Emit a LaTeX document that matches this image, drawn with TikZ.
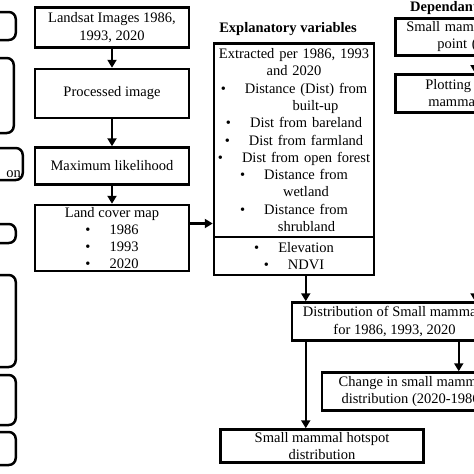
\documentclass[tikz,border=0pt]{standalone}
\usepackage{fontspec}
\setmainfont{Liberation Serif}
\usepackage{tikz}
\usetikzlibrary{arrows.meta}
\usetikzlibrary{calc}
\usetikzlibrary{positioning}
\usetikzlibrary{shapes}
\newcommand{\flowfont}{\fontsize{14.5}{17.3}\selectfont}
\newcommand{\bul}{\textbullet\hspace{19pt}}

\begin{document}
\begin{tikzpicture}[x=1pt,y=-1pt,
    flowbox/.style={draw,rectangle,line width=2.5pt,align=center,inner sep=2pt,font=\flowfont},
    sidebox/.style={draw,rectangle,rounded corners=7pt,line width=2.5pt,minimum width=120pt},
    heading/.style={inner sep=0pt,font=\flowfont\bfseries},
    arr/.style={-{Triangle[length=8pt,width=9pt]},line width=2.5pt}]
      \useasboundingbox (0,0) rectangle (474,474);
      \clip (0,0) rectangle (474,474);
      \fill[white] (0,0) rectangle (474,474);

      \node[sidebox,anchor=east,minimum height=28pt] (s1) at (17,26) {};
      \node[sidebox,anchor=east,minimum height=75pt] (s2) at (15,95.5) {};
      \node[sidebox,anchor=east,minimum height=32pt] (s3) at (24,164) {};
      \node[anchor=base east,inner sep=0pt,font=\flowfont] (s3t) at ([xshift=-3pt,yshift=4pt]s3.south east) {on};
      \node[sidebox,anchor=east,minimum height=19pt] (s4) at (17,233.5) {};
      \node[sidebox,anchor=east,minimum height=92pt] (s5) at (17,321) {};
      \node[sidebox,anchor=east,minimum height=50pt] (s6) at (17,400) {};
      \node[sidebox,anchor=east,minimum height=33pt] (s7) at (17,448.5) {};

      \node[flowbox,minimum width=154pt,minimum height=40pt] (landsat) at (112,27.5) {Landsat Images 1986,\\1993, 2020};
      \node[flowbox,minimum width=154pt,minimum height=49pt,below=19pt of landsat] (processed) {Processed image};
      \node[flowbox,minimum width=154pt,minimum height=37pt,below=27pt of processed] (maxlik) {Maximum likelihood};
      \node[flowbox,minimum width=154pt,minimum height=66pt,inner ysep=0pt,below=18pt of maxlik] (landcover)
        {Land cover map\\\bul 1986\\\bul 1993\\\bul 2020};

      \node[heading] (explhead) at (288,29) {Explanatory variables};
      \node[flowbox,rectangle split,rectangle split parts=2,text width=156pt,inner ysep=4pt,anchor=north] (expl) at (294,42)
        {Extracted per 1986, 1993\\and 2020\\
         \bul Distance (Dist) from\\\hspace*{43pt}built-up\\
         \bul Dist from bareland\\
         \bul Dist from farmland\\
         \bul Dist from open forest\\
         \bul Distance from\\\hspace*{24pt}wetland\\
         \bul Distance from\\\hspace*{25pt}shrubland
         \nodepart{two}
         \bul Elevation\\\bul NDVI};

      \node[heading,anchor=west] (dephead) at (410,8) {Dependant};
      \node[flowbox,anchor=north west,align=left,text width=178pt,inner xsep=11pt,minimum height=37pt] (smallpt) at (394,17)
        {Small mammal\\\hspace*{31pt}point (};
      \node[flowbox,anchor=north west,align=left,text width=178pt,inner xsep=30pt,minimum height=38pt] (plotting) at (394,73)
        {Plotting\\\hspace*{3pt}mammal};

      \node[flowbox,minimum width=205pt,minimum height=38pt] (distrib) at (394.5,321.5)
        {Distribution of Small mammals\\for 1986, 1993, 2020};
      \node[flowbox,minimum width=182pt,minimum height=38pt] (change) at (413,391.5)
        {Change in small mammal\\distribution (2020-1986)};
      \node[flowbox,minimum width=203pt,minimum height=33pt] (hotspot) at (322,446)
        {Small mammal hotspot\\distribution};

      \coordinate (depx) at (475,0);
      \coordinate (ax) at ([xshift=15pt]distrib.north west);
      \coordinate (bx) at ([xshift=168pt]distrib.south west);

      \draw[arr] (landsat) -- (processed);
      \draw[arr] (processed) -- (maxlik);
      \draw[arr] (maxlik) -- (landcover);
      \draw[arr] ([yshift=14.5pt]landcover.east) coordinate (lc) -- (lc -| expl.west);
      \draw[arr] (expl.south -| ax) -- (ax);
      \draw[arr] ([xshift=15pt]distrib.south west) -- (hotspot.north -| ax);
      \draw[arr] (bx) -- (change.north -| bx);
      \draw[arr] (smallpt.south -| depx) -- (plotting.north -| depx);
      \draw[arr] (plotting.south -| depx) -- (distrib.north -| depx);
    \end{tikzpicture}
\end{document}
